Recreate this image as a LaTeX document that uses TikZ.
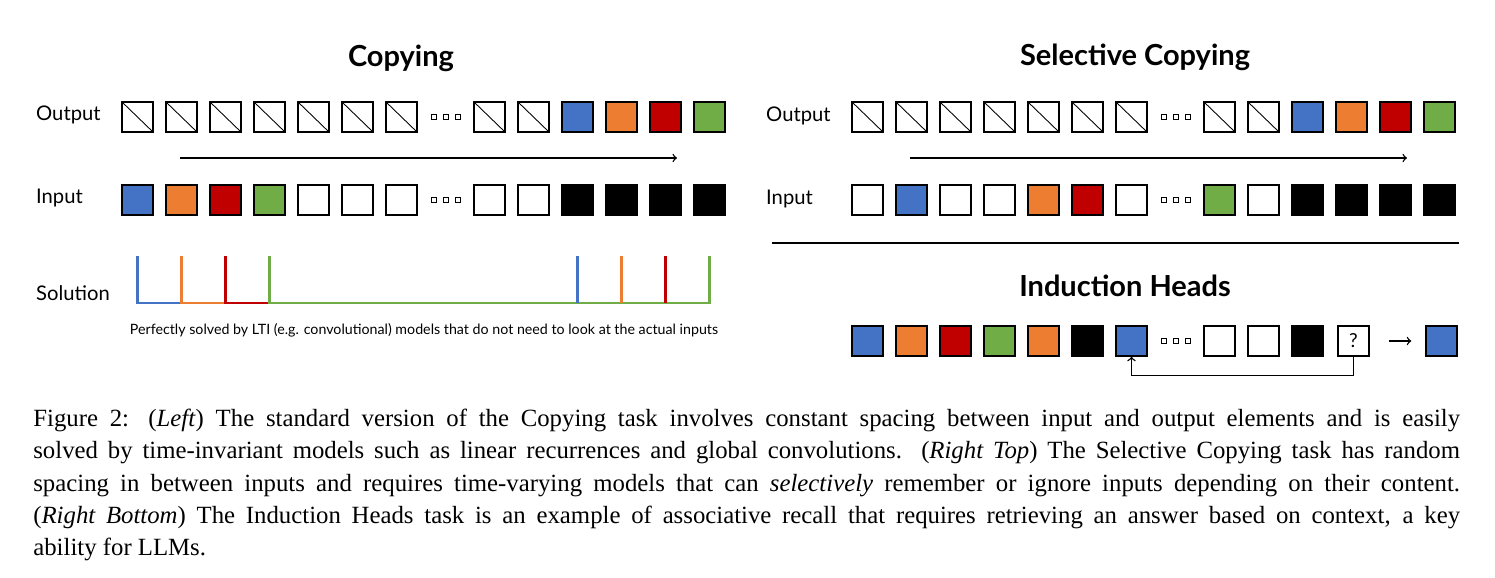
\documentclass[tikz,border=0pt]{standalone}
\usepackage{fontspec}
\setmainfont{Liberation Serif}
\newfontfamily\diagfont{Lato}
\usetikzlibrary{positioning}
\definecolor{cblue}{HTML}{4472C4}
\definecolor{corange}{HTML}{ED7D31}
\definecolor{cred}{HTML}{C00000}
\definecolor{cgreen}{HTML}{70AD47}
\tikzset{
  cell/.style={draw, line width=0.8pt, minimum width=0.62cm, minimum height=0.6cm, inner sep=0pt},
  d/.style={fill=white, path picture={\draw[line width=0.5pt] (path picture bounding box.north west) -- (path picture bounding box.south east);}},
  w/.style={fill=white},
  k/.style={fill=black},
  b/.style={fill=cblue},
  o/.style={fill=corange},
  r/.style={fill=cred},
  g/.style={fill=cgreen},
  dot/.style={draw, line width=0.5pt, minimum size=0.1cm, inner sep=0pt},
  title/.style={font=\diagfont\bfseries\fontsize{16.5}{19}\selectfont},
  lbl/.style={font=\diagfont\fontsize{11.5}{14}\selectfont, anchor=west},
  sol/.style={line width=1.3pt}
}
\newcommand{\dotsrow}[2]{%
  \node[dot] at (#1-12,#2) {};
  \node[dot] at (#1,#2) {};
  \node[dot] at (#1+12,#2) {};}
\begin{document}
\begin{tikzpicture}[x=0.02cm, y=-0.02cm]
\useasboundingbox (0,0) rectangle (1495,578);

% Copying
\node[title] (t-copy) at (401,58) {Copying};
\node[lbl] (l-out) at (30,115) {Output};
\node[lbl] (l-in) at (30,198) {Input};
\node[lbl] (l-sol) at (30,293) {Solution};
\foreach \s [count=\i] in {d,d,d,d,d,d,d,d,d,b,o,r,g}
  \node[cell,\s] (out-\i) at ({137.5+44*(\i-1)+44*(\i>7)},117) {};
\foreach \s [count=\i] in {b,o,r,g,w,w,w,w,w,k,k,k,k}
  \node[cell,\s] (in-\i) at ({137.5+44*(\i-1)+44*(\i>7)},200) {};
\dotsrow{445.5}{117}
\dotsrow{445.5}{200}
\coordinate (a-start) at (180,158);
\coordinate (a-end) at (677,158);
\draw[->, line width=0.8pt] (a-start) -- (a-end);

% solution
\coordinate (s-top) at (0,256);
\coordinate (s-bot) at (0,303);
\draw[sol, draw=cblue] (in-1 |- s-top) -- (in-1 |- s-bot) -- (in-2 |- s-bot);
\draw[sol, draw=corange] (in-2 |- s-top) -- (in-2 |- s-bot) -- (in-3 |- s-bot);
\draw[sol, draw=cred] (in-3 |- s-top) -- (in-3 |- s-bot) -- (in-4 |- s-bot);
\draw[sol, draw=cgreen] (in-4 |- s-top) -- (in-4 |- s-bot) -- (out-13 |- s-bot) -- (out-13 |- s-top);
\draw[sol, draw=cblue] (out-10 |- s-top) -- (out-10 |- s-bot);
\draw[sol, draw=corange] (out-11 |- s-top) -- (out-11 |- s-bot);
\draw[sol, draw=cred] (out-12 |- s-top) -- (out-12 |- s-bot);
\node[font=\diagfont\fontsize{8.1}{9}\selectfont] (s-note) at (424,330)
  {Perfectly solved by LTI (e.g. convolutional) models that do not need to look at the actual inputs};

% Selective Copying
\node[title] (t-sel) at (1135,57) {Selective Copying};
\node[lbl] (l-sout) at (760,116) {Output};
\node[lbl] (l-sin) at (760,199) {Input};
\foreach \s [count=\i] in {d,d,d,d,d,d,d,d,d,b,o,r,g}
  \node[cell,\s] (sout-\i) at ({867.5+44*(\i-1)+44*(\i>7)},117) {};
\foreach \s [count=\i] in {w,b,w,w,o,r,w,g,w,k,k,k,k}
  \node[cell,\s] (sin-\i) at ({867.5+44*(\i-1)+44*(\i>7)},200) {};
\dotsrow{1175.5}{117}
\dotsrow{1175.5}{200}
\coordinate (sa-start) at (910,158);
\coordinate (sa-end) at (1407,158);
\draw[->, line width=0.8pt] (sa-start) -- (sa-end);
\coordinate (rule-l) at (772,243);
\coordinate (rule-r) at (1459,243);
\draw[line width=1pt] (rule-l) -- (rule-r);

% Induction Heads
\node[title] (t-ind) at (1125,286) {Induction Heads};
\foreach \s [count=\i] in {b,o,r,g,o,k,b,w,w,k}
  \node[cell,\s] (ind-\i) at ({867.5+44*(\i-1)+44*(\i>7)},341) {};
\dotsrow{1175.5}{341}
\node[cell,w,font=\diagfont\fontsize{11}{13}\selectfont] (q) at (1353.5,341) {?};
\node[cell,b] (ans) at (1441.5,341) {};
\draw[->, line width=0.8pt] ([xshift=11pt]q.east) -- ([xshift=-8pt]ans.west);
\draw[->, line width=0.8pt] (q.south) -- ++(0,19) -| (ind-7.south);

% caption
\node[anchor=north west, text width=28.54cm, align=justify, inner sep=0pt,
  font=\fontsize{14.1}{18.3}\selectfont] (cap) at (33,409)
  {Figure 2: (\textit{Left}) The standard version of the Copying task involves constant spacing between input and output elements and is easily\linebreak
  solved by time-invariant models such as linear recurrences and global convolutions. (\textit{Right Top}) The Selective Copying task has random\linebreak
  spacing in between inputs and requires time-varying models that can \textit{selectively} remember or ignore inputs depending on their content.\linebreak
  (\textit{Right Bottom}) The Induction Heads task is an example of associative recall that requires retrieving an answer based on context, a key\linebreak
  ability for LLMs.};
\end{tikzpicture}
\end{document}
